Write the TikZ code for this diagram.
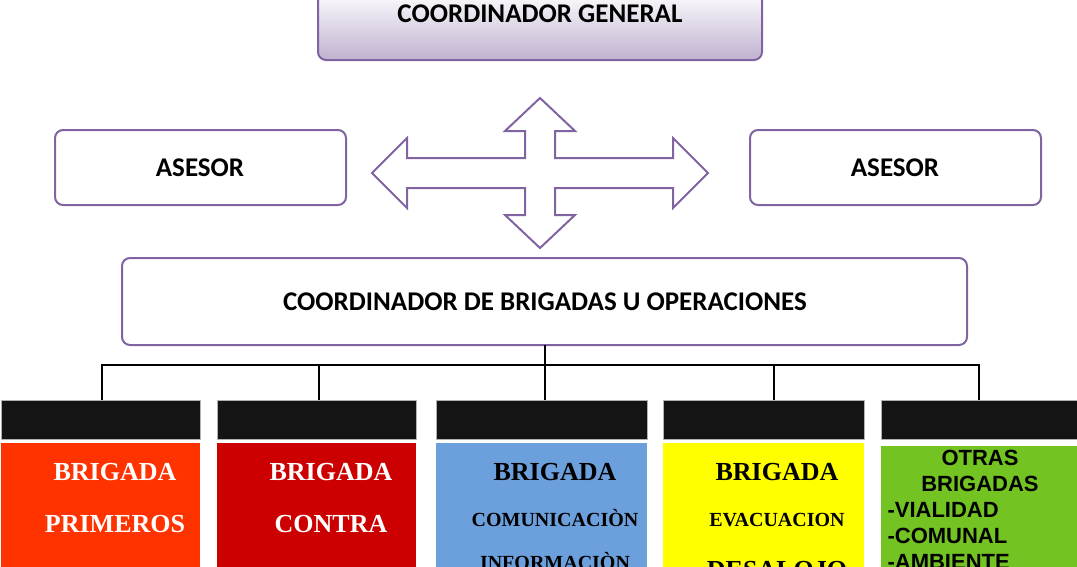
\documentclass[tikz,border=0pt]{standalone}
\usepackage{fontspec}
\setmainfont{Liberation Serif}
\newfontfamily\carlfont{Carlito}
\newfontfamily\arsfont{Liberation Sans}
\begin{document}
\begin{tikzpicture}[x=1pt,y=-1pt,
  pbox/.style={line width=2pt,rounded corners=8pt},
  ptext/.style={font=\carlfont\bfseries\fontsize{27}{29}\selectfont},
  bar/.style={fill=black!92,draw=gray!60},
  btext/.style={font=\bfseries\fontsize{26}{28}\selectfont},
  stext/.style={font=\bfseries\fontsize{20}{22}\selectfont},
  otext/.style={font=\arsfont\bfseries\fontsize{22}{22}\selectfont}]
\definecolor{pb}{HTML}{8064A2}
\useasboundingbox (0,0) rectangle (1077,566);
\begin{scope}
\clip (0,0) rectangle (1077,566);
\shade[top color=white,bottom color=pb!50,draw=pb,line width=2pt,rounded corners=8pt] (318,-10) rectangle (762,60);
\node[ptext] (cg) at (540,14) {COORDINADOR GENERAL};
\draw[pbox,draw=pb] (55,130) rectangle (346,205);
\node[ptext] (a1) at (200,168) {ASESOR};
\draw[pbox,draw=pb] (750,130) rectangle (1041,205);
\node[ptext] (a2) at (895,168) {ASESOR};
% four-way arrow
\draw[draw=pb,line width=2pt,fill=white,line join=miter]
 (540,98) -- (575,131) -- (555,131) -- (555,158) -- (673,158) -- (673,138) -- (708,173)
 -- (673,208) -- (673,188) -- (555,188) -- (555,215) -- (575,215) -- (540,248)
 -- (505,215) -- (525,215) -- (525,188) -- (407,188) -- (407,208) -- (372,173)
 -- (407,138) -- (407,158) -- (525,158) -- (525,131) -- (505,131) -- cycle;
\draw[pbox,draw=pb] (122,258) rectangle (967,345);
\node[ptext] (cb) at (545,302) {COORDINADOR DE BRIGADAS U OPERACIONES};
% tree
\coordinate (t0) at (545,345);
\coordinate (t1) at (545,365);
\draw[line width=2pt] (t0) -- (t1);
\draw[line width=2pt] (102,365) -- (979,365);
\foreach \x in {102,319,545,774,979} \draw[line width=2pt] (\x,364) -- (\x,400);
% bars
\foreach \a/\b in {1/200,217/416,436/647,663/864,881/1077} \draw[bar] (\a,400) rectangle (\b,439);
\fill[fill={rgb,255:red,255;green,51;blue,0}] (1,443) rectangle (200,570);
\fill[fill={rgb,255:red,204;green,0;blue,0}] (217,443) rectangle (416,570);
\fill[fill={rgb,255:red,108;green,160;blue,220}] (436,443) rectangle (647,570);
\fill[fill={rgb,255:red,255;green,255;blue,0}] (663,443) rectangle (864,570);
\fill[fill={rgb,255:red,115;green,195;blue,34}] (881,446) rectangle (1077,570);
\node[btext,white] (b1a) at (115,472) {BRIGADA};
\node[btext,white] (b1b) at (115,524) {PRIMEROS};
\node[btext,white] (b2a) at (331,472) {BRIGADA};
\node[btext,white] (b2b) at (331,524) {CONTRA};
\node[btext] (b3a) at (555,472) {BRIGADA};
\node[stext] (b3b) at (555,518) {COMUNICACIÒN};
\node[stext] (b3c) at (555,561) {INFORMACIÒN};
\node[btext] (b4a) at (777,472) {BRIGADA};
\node[stext] (b4b) at (777,520) {EVACUACION};
\node[btext] (b4c) at (777,570) {DESALOJO};
\node[otext] (o1) at (980,458) {OTRAS};
\node[otext] (o2) at (980,484) {BRIGADAS};
\node[otext,anchor=west] (o3) at (884,510) {-VIALIDAD};
\node[otext,anchor=west] (o4) at (884,536) {-COMUNAL};
\node[otext,anchor=west] (o5) at (884,562) {-AMBIENTE};
\end{scope}
\end{tikzpicture}
\end{document}
